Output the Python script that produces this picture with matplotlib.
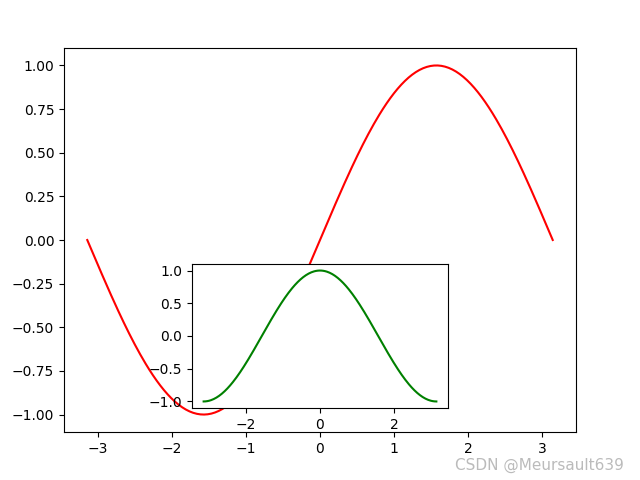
import matplotlib
matplotlib.use("Agg")
import matplotlib.pyplot as plt
import numpy as np

# main curve: sin over [-pi, pi]; inset: cos over [-pi, pi]
x_main = np.linspace(-np.pi, np.pi, 256)
y_main = np.sin(x_main)
x_inset = np.linspace(-np.pi, np.pi, 256)
y_inset = np.cos(x_inset)

fig = plt.figure(figsize=(6.4, 4.8), dpi=100)

ax1 = fig.add_axes([0.1, 0.1, 0.8, 0.8])
ax1.plot(x_main, y_main, color="r")

ax2 = fig.add_axes([0.3, 0.15, 0.4, 0.3])
ax2.plot(x_inset, y_inset, color="g")

fig.text(0.975, 0.03, "CSDN @Meursault639", ha="right", va="center",
         color="#bbbbbb", fontsize=11)

fig.savefig("out.png")
